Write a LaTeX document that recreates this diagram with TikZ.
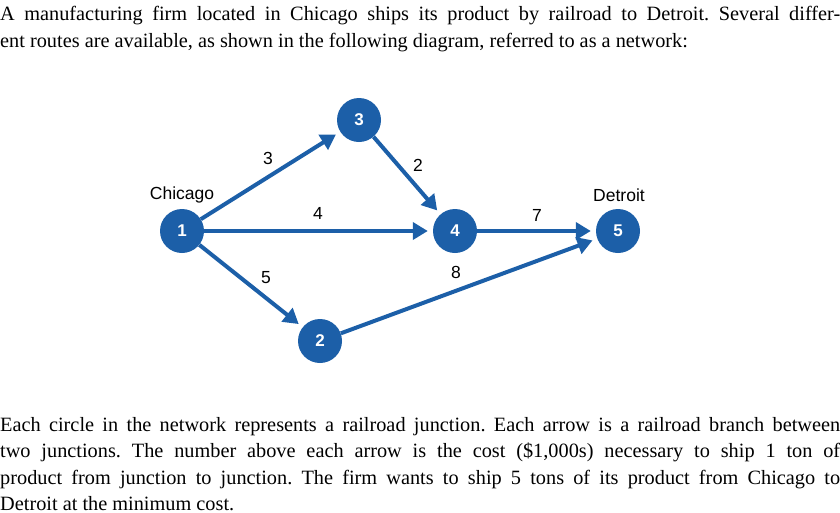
\documentclass[tikz,border=0pt]{standalone}
\usepackage{fontspec}
\setmainfont{Liberation Serif}
\setsansfont{Liberation Sans}
\usetikzlibrary{arrows.meta}
\definecolor{nb}{HTML}{1C5FA8}
\frenchspacing
\begin{document}
\begin{tikzpicture}[x=1pt,y=-1pt,
  jn/.style={circle,fill=nb,minimum size=44pt,inner sep=0,text=white,font=\sffamily\bfseries\fontsize{17}{17}\selectfont},
  rt/.style={draw=nb,line width=4pt,-{Triangle[length=15pt,width=17pt]},shorten >=5pt},
  lb/.style={font=\sffamily\fontsize{17.5}{17.5}\selectfont},
  tx/.style={anchor=base west,inner sep=0,font=\fontsize{20.3}{27}\selectfont}]
\useasboundingbox (0,0) rectangle (840,512);
\node[tx] (t1) at (0,20) {\makebox[840pt][s]{A manufacturing firm located in Chicago ships its product by railroad to Detroit. Several differ-}};
\node[tx] (t2) at (0,47) {ent routes are available, as shown in the following diagram, referred to as a network:};
\node[tx] (b1) at (0,431) {\makebox[840pt][s]{Each circle in the network represents a railroad junction. Each arrow is a railroad branch between}};
\node[tx] (b2) at (0,457.5) {\makebox[840pt][s]{two junctions. The number above each arrow is the cost (\$1,000s) necessary to ship 1 ton of}};
\node[tx] (b3) at (0,484) {\makebox[840pt][s]{product from junction to junction. The firm wants to ship 5 tons of its product from Chicago to}};
\node[tx] (b4) at (0,510) {Detroit at the minimum cost.};
\node[jn] (n1) at (182,231) {1};
\node[jn] (n3) at (359,120) {3};
\node[jn] (n4) at (455,231) {4};
\node[jn] (n5) at (618,231) {5};
\node[jn] (n2) at (320,341) {2};
\draw[rt] (n1) -- (n3);
\draw[rt] (n1) -- (n4);
\draw[rt] (n1) -- (n2);
\draw[rt] (n3) -- (n4);
\draw[rt] (n4) -- (n5);
\draw[rt] (n2) -- (n5);
\node[lb] (l13) at (268,158) {3};
\node[lb] (l34) at (418,165) {2};
\node[lb] (l14) at (318,213) {4};
\node[lb] (l45) at (537,215) {7};
\node[lb] (l12) at (266,278) {5};
\node[lb] (l25) at (456,272) {8};
\node[lb] (c) at (182,195) {Chicago};
\node[lb] (d) at (619,195) {Detroit};
\end{tikzpicture}
\end{document}
